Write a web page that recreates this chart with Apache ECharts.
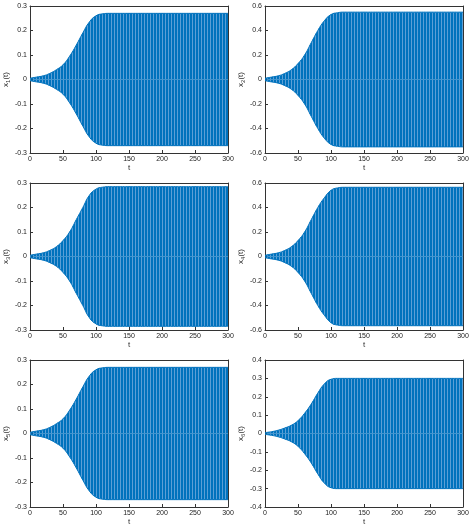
<!DOCTYPE html>
<html><head><meta charset="utf-8">
<script src="https://cdn.jsdelivr.net/npm/echarts@6/dist/echarts.min.js"></script>
<style>html,body{margin:0;background:#fff}#chart{width:474px;height:527px}</style>
</head><body><div id="chart"></div>
<script>
// envelope amplitude read every 10 t (t = 0..300)
let tSteps = [0,10,20,30,40,50,60,70,80,90,100,110,120,130,140,150,160,170,180,190,200,210,220,230,240,250,260,270,280,290,300];
let env1 = [0.005,0.01,0.015,0.025,0.04,0.06,0.095,0.14,0.19,0.235,0.26,0.268,0.27,0.27,0.27,0.27,0.27,0.27,0.27,0.27,0.27,0.27,0.27,0.27,0.27,0.27,0.27,0.27,0.27,0.27,0.27];
let env2 = [0.01,0.02,0.03,0.05,0.08,0.13,0.2,0.3,0.4,0.48,0.53,0.545,0.55,0.55,0.55,0.55,0.55,0.55,0.55,0.55,0.55,0.55,0.55,0.55,0.55,0.55,0.55,0.55,0.55,0.55,0.55];
let env3 = [0.005,0.01,0.015,0.025,0.04,0.065,0.1,0.15,0.2,0.25,0.275,0.283,0.285,0.285,0.285,0.285,0.285,0.285,0.285,0.285,0.285,0.285,0.285,0.285,0.285,0.285,0.285,0.285,0.285,0.285,0.285];
let env4 = [0.01,0.02,0.03,0.05,0.08,0.13,0.2,0.3,0.4,0.48,0.54,0.56,0.565,0.565,0.565,0.565,0.565,0.565,0.565,0.565,0.565,0.565,0.565,0.565,0.565,0.565,0.565,0.565,0.565,0.565,0.565];
let env5 = [0.005,0.01,0.015,0.025,0.04,0.06,0.095,0.14,0.19,0.235,0.26,0.268,0.27,0.27,0.27,0.27,0.27,0.27,0.27,0.27,0.27,0.27,0.27,0.27,0.27,0.27,0.27,0.27,0.27,0.27,0.27];
let env6 = [0.005,0.01,0.018,0.03,0.045,0.07,0.11,0.16,0.22,0.27,0.295,0.3,0.3,0.3,0.3,0.3,0.3,0.3,0.3,0.3,0.3,0.3,0.3,0.3,0.3,0.3,0.3,0.3,0.3,0.3,0.3];
let yMax = [0.3,0.6,0.3,0.6,0.3,0.4];
let yStep = [0.1,0.2,0.1,0.2,0.1,0.1];
let envs = [env1,env2,env3,env4,env5,env6];

let chart = echarts.init(document.getElementById("chart"));
let lefts = [30, 265];
let tops = [6, 183, 360];
let grid = [], xAxis = [], yAxis = [], series = [];
let decal = {symbol:'rect', symbolSize:1, dashArrayX:[1,2], dashArrayY:[1,0], color:'#5b9fd6', rotation:0};
envs.forEach(function (env, i) {
    let col = i % 2, row = Math.floor(i / 2);
    grid.push({left: lefts[col], top: tops[row], width: 198, height: 147});
    xAxis.push({
        gridIndex: i, type: 'value', min: 0, max: 300, interval: 50,
        name: 't', nameLocation: 'middle', nameGap: 11,
        nameTextStyle: {fontSize: 8, fontFamily: 'Liberation Sans'},
        axisLine: {onZero: false, lineStyle: {color: '#333'}}, axisTick: {inside: true, length: 3},
        axisLabel: {fontSize: 7, margin: 3, color: '#222'}, splitLine: {show: false}
    });
    xAxis.push({gridIndex: i, type: 'value', min: 0, max: 300, position: 'top', axisLine: {onZero: false, lineStyle: {color: '#333'}}, axisTick: {show: false}, axisLabel: {show: false}, splitLine: {show: false}});
    yAxis.push({
        gridIndex: i, type: 'value', min: -yMax[i], max: yMax[i], interval: yStep[i],
        name: '{a|x}{b|' + (i + 1) + '}{a|(t)}', nameLocation: 'middle', nameGap: 18,
        nameTextStyle: {rich: {a: {fontSize: 8}, b: {fontSize: 6, verticalAlign: 'bottom', padding: [4, 0, 0, 0]}}},
        axisLine: {show: true, onZero: false, lineStyle: {color: '#333'}}, axisTick: {inside: true, length: 3},
        axisLabel: {fontSize: 7, margin: 3, color: '#222', formatter: function (v) { return +v.toFixed(1) + ''; }},
        splitLine: {show: false}
    });
    yAxis.push({gridIndex: i, type: 'value', min: -yMax[i], max: yMax[i], position: 'right', axisLine: {show: true, onZero: false, lineStyle: {color: '#333'}}, axisTick: {show: false}, axisLabel: {show: false}, splitLine: {show: false}});
    let up = tSteps.map(function (t, k) { return [t, env[k]]; });
    let lo = tSteps.map(function (t, k) { return [t, -env[k]]; });
    [up, lo].forEach(function (d) {
        series.push({
            type: 'line', xAxisIndex: 2 * i, yAxisIndex: 2 * i, data: d, symbol: 'none', smooth: true,
            lineStyle: {color: '#0072BD', width: 1}, itemStyle: {color: '#0072BD', decal: decal},
            areaStyle: {color: '#0072BD', opacity: 1, origin: 0}, silent: true
        });
    });
});
chart.setOption({aria: {enabled: true, decal: {show: true}}, animation: false, grid: grid, xAxis: xAxis, yAxis: yAxis, series: series});
</script></body></html>
